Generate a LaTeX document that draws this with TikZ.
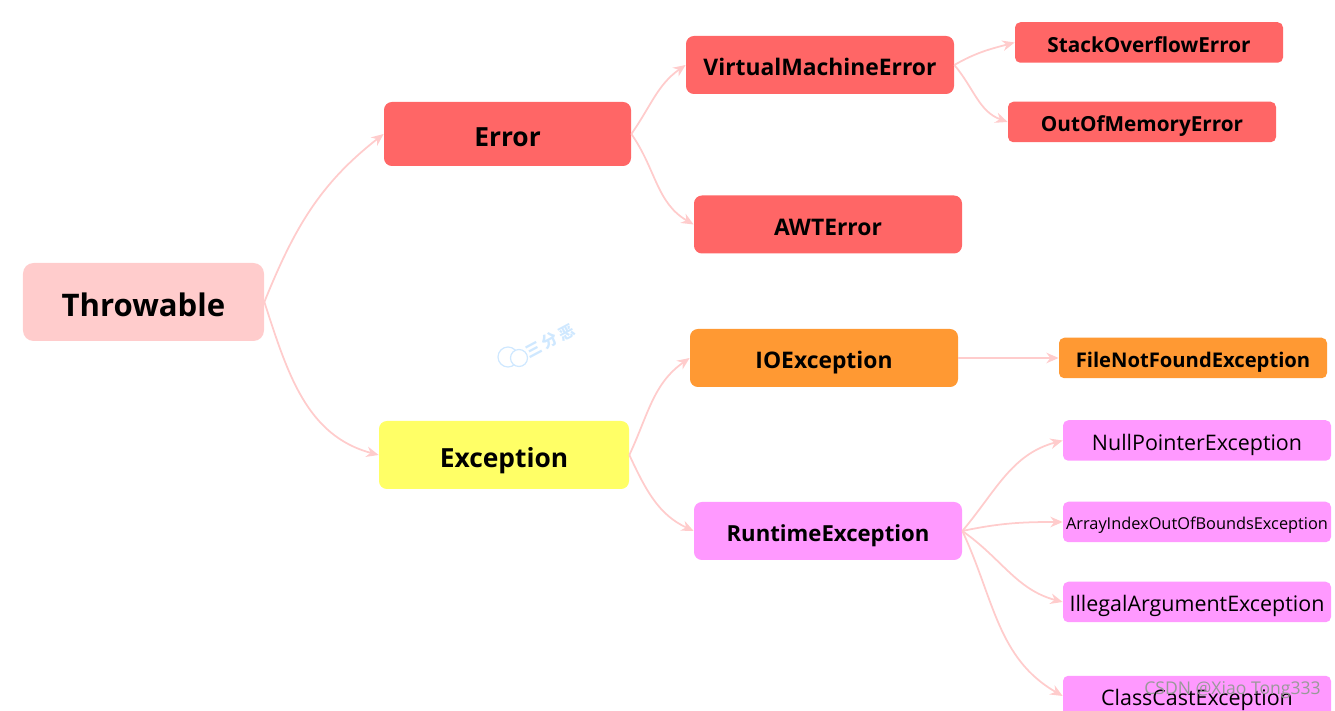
\documentclass[tikz,border=0pt]{standalone}
\usepackage{fontspec}
\usepackage{xcolor}
\setmainfont{Open Sans}
\newfontfamily\cjk{Noto Sans CJK SC}
\usetikzlibrary{arrows.meta}
\definecolor{rootpink}{HTML}{FFCCCC}
\definecolor{errred}{HTML}{FF6666}
\definecolor{excyellow}{HTML}{FFFF66}
\definecolor{iorange}{HTML}{FF9933}
\definecolor{runpink}{HTML}{FF99FF}
\definecolor{markblue}{HTML}{CFE8FF}
\tikzset{
  box/.style={rounded corners=4.5pt, minimum height=1.16cm, minimum width=5.36cm, inner sep=0pt, text=black, text depth=0pt},
  smallbox/.style={box, rounded corners=3pt, minimum height=0.81cm},
  link/.style={draw=rootpink, line width=1pt, -{Stealth[length=7pt,width=6pt]}},
  headfont/.style={font=\fontsize{15}{18}\selectfont\bfseries, text height=14pt},
  subfont/.style={font=\fontsize{13}{15}\selectfont\bfseries, text height=12pt},
  tinyfont/.style={font=\fontsize{11.8}{14}\selectfont\bfseries, text height=11pt},
  leaffont/.style={font=\fontsize{12.2}{15}\selectfont, text height=11pt}
}
\begin{document}
\begin{tikzpicture}
\useasboundingbox (0,0) rectangle (26.7,14.2);
\clip (0,0) rectangle (26.7,14.2);
\node [box, fill=rootpink, minimum width=4.82cm, minimum height=1.56cm, rounded corners=6pt, font=\fontsize{17.7}{22}\selectfont\bfseries, text height=17pt] (throwable) at (2.87,8.16) {Throwable};
\node [box, fill=errred, minimum width=4.94cm, minimum height=1.28cm, headfont] (error) at (10.15,11.52) {Error};
\node [box, fill=excyellow, minimum width=5.0cm, minimum height=1.36cm, headfont] (exception) at (10.08,5.10) {Exception};
\node [box, fill=errred, subfont] (vmerror) at (16.40,12.90) {VirtualMachineError};
\node [box, fill=errred, subfont] (awterror) at (16.56,9.71) {AWTError};
\node [box, fill=iorange, subfont] (ioexc) at (16.48,7.04) {IOException};
\node [box, fill=runpink, subfont, font=\fontsize{12.6}{15}\selectfont\bfseries] (runexc) at (16.56,3.58) {RuntimeException};
\node [smallbox, fill=errred, tinyfont] (stackerr) at (22.98,13.35) {StackOverflowError};
\node [smallbox, fill=errred, tinyfont] (memerr) at (22.84,11.76) {OutOfMemoryError};
\node [smallbox, fill=iorange, tinyfont, font=\fontsize{11.5}{14}\selectfont\bfseries] (notfound) at (23.86,7.04) {FileNotFoundException};
\node [smallbox, fill=runpink, leaffont] (nullexc) at (23.94,5.39) {NullPointerException};
\node [smallbox, fill=runpink, font=\fontsize{9.3}{12}\selectfont, text height=9pt] (arrayexc) at (23.94,3.76) {ArrayIndexOutOfBoundsException};
\node [smallbox, fill=runpink, leaffont] (illegalexc) at (23.94,2.16) {IllegalArgumentException};
\node [smallbox, fill=runpink, leaffont] (castexc) at (23.94,0.28) {ClassCastException};
\draw [link] (throwable.east) to [out=68,in=218] (error.west);
\draw [link] (throwable.east) to [out=-72,in=165] (exception.west);
\draw [link] (error.east) to [out=55,in=215] (vmerror.west);
\draw [link] (error.east) to [out=-55,in=150] (awterror.west);
\draw [link] (exception.east) to [out=65,in=215] (ioexc.west);
\draw [link] (exception.east) to [out=-65,in=155] (runexc.west);
\draw [link] (vmerror.east) to [out=30,in=195] (stackerr.west);
\draw [link] (vmerror.east) to [out=-50,in=160] (memerr.west);
\draw [link] (ioexc.east) -- (notfound.west);
\draw [link] (runexc.east) to [out=50,in=195] (nullexc.west);
\draw [link] (runexc.east) to [out=12,in=180] (arrayexc.west);
\draw [link] (runexc.east) to [out=-35,in=165] (illegalexc.west);
\draw [link] (runexc.east) to [out=-65,in=150] (castexc.west);
\draw [markblue, line width=0.7pt] (10.16,7.06) circle [radius=0.2];
\draw [markblue, line width=0.7pt, fill=white] (10.38,7.04) circle [radius=0.17];
\node [rotate=28, text=markblue, font=\cjk\bfseries\fontsize{9}{11}\selectfont, inner sep=0pt] (mark) at (11.0,7.38) {三\,分\,恶};
\node [text=gray!80, font=\fontsize{10}{12}\selectfont, inner sep=0pt] (csdn) at (24.65,0.4) {CSDN @Xiao Tong333};
\end{tikzpicture}
\end{document}
